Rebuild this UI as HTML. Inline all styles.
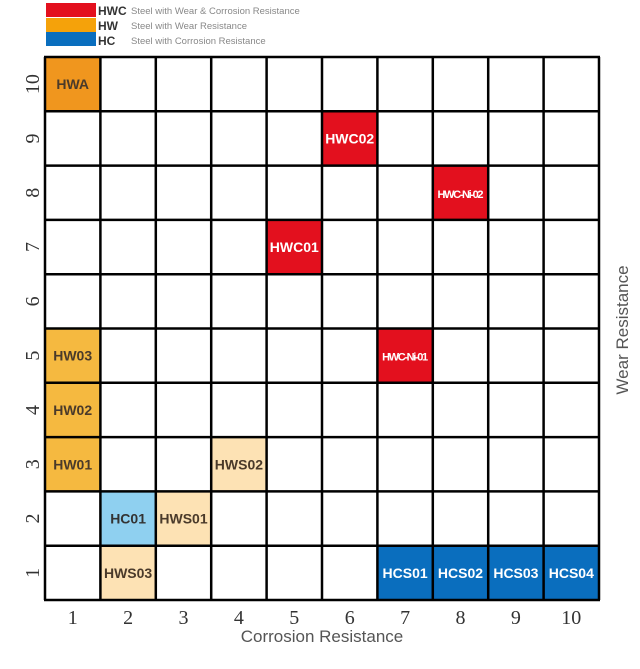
<!DOCTYPE html>
<html><head><meta charset="utf-8"><style>
body{margin:0;background:#fff;width:640px;height:664px;overflow:hidden}
</style></head><body>
<svg id="chart" width="640" height="664" xmlns="http://www.w3.org/2000/svg">
<g>
<rect x="46" y="3" width="50" height="14" fill="#e3101e"/>
<rect x="46" y="18" width="50" height="14" fill="#f5a20a"/>
<rect x="46" y="32" width="50" height="14" fill="#0a6ebe"/>
<g font-family="Liberation Sans, sans-serif" font-weight="bold" font-size="12" fill="#333">
<text x="98" y="15">HWC</text>
<text x="98" y="30">HW</text>
<text x="98" y="45">HC</text></g>
<g font-family="Liberation Sans, sans-serif" font-size="9.5" fill="#888">
<text x="131" y="14">Steel with Wear &amp; Corrosion Resistance</text>
<text x="131" y="29">Steel with Wear Resistance</text>
<text x="131" y="44">Steel with Corrosion Resistance</text></g>
</g>
<g id="cells"></g><g id="grid"></g><g id="labels"></g>
<text x="322" y="642" text-anchor="middle" font-family="Liberation Sans, sans-serif" font-size="17" fill="#555">Corrosion Resistance</text>
<text transform="translate(628,330) rotate(-90)" text-anchor="middle" font-family="Liberation Sans, sans-serif" font-size="17" fill="#555">Wear Resistance</text>
</svg>
<script>
const xTicks=[1,2,3,4,5,6,7,8,9,10];
const yTicks=[1,2,3,4,5,6,7,8,9,10];
const names=["HWA","HWC02","HWC-Ni-02","HWC01","HW03","HWC-Ni-01","HW02","HW01","HWS02","HC01","HWS01","HWS03","HCS01","HCS02","HCS03","HCS04"];
const corrosion=[1,6,8,5,1,7,1,1,4,2,3,2,7,8,9,10];
const wear=[10,9,8,7,5,5,4,3,3,2,2,1,1,1,1,1];
const kinds=["HWA","HWC","HWC","HWC","HW","HWC","HW","HW","HWS","HC","HWS","HWS","HCS","HCS","HCS","HCS"];
const fills={HWA:"#f0961e",HWC:"#e3101e",HW:"#f5b940",HWS:"#fde2b4",HC:"#8fd0f0",HCS:"#0a6ebe"};
const textCol={HWA:"#4a3a2a",HWC:"#fff",HW:"#4a3a2a",HWS:"#4a3a2a",HC:"#333",HCS:"#fff"};
const X0=45,X1=599,Y0=57,Y1=600,cw=(X1-X0)/10,ch=(Y1-Y0)/10;
const xs=v=>X0+(v-1)*cw, ys=v=>Y1-v*ch;
const NS="http://www.w3.org/2000/svg";
const cells=document.getElementById('cells'),grid=document.getElementById('grid'),labels=document.getElementById('labels');
names.forEach((n,i)=>{
 const k=kinds[i];
 const r=document.createElementNS(NS,'rect');
 r.setAttribute('x',xs(corrosion[i]));r.setAttribute('y',ys(wear[i]));
 r.setAttribute('width',cw);r.setAttribute('height',ch);r.setAttribute('fill',fills[k]);
 
 
 cells.appendChild(r);
 const t=document.createElementNS(NS,'text');
 t.setAttribute('x',xs(corrosion[i])+cw/2);t.setAttribute('y',ys(wear[i])+ch/2+5);
 t.setAttribute('text-anchor','middle');t.setAttribute('font-family','Liberation Sans, sans-serif');
 t.setAttribute('font-weight','bold');t.setAttribute('font-size',n.length>6?'11':'14');
 if(n.length>6)t.setAttribute('textLength','46');
 t.setAttribute('fill',textCol[k]);t.textContent=n;
 
 
 labels.appendChild(t);
});
for(let i=0;i<=10;i++){
 const v=document.createElementNS(NS,'line');
 v.setAttribute('x1',X0+i*cw);v.setAttribute('x2',X0+i*cw);v.setAttribute('y1',Y0);v.setAttribute('y2',Y1);
 v.setAttribute('stroke','#000');v.setAttribute('stroke-width','2.5');
 
 
 grid.appendChild(v);
 const h=document.createElementNS(NS,'line');
 h.setAttribute('y1',Y0+i*ch);h.setAttribute('y2',Y0+i*ch);h.setAttribute('x1',X0-1);h.setAttribute('x2',X1+1);
 h.setAttribute('stroke','#000');h.setAttribute('stroke-width','2.5');
 
 
 grid.appendChild(h);
}
xTicks.forEach(v=>{
 const t=document.createElementNS(NS,'text');
 t.setAttribute('x',xs(v)+cw/2);t.setAttribute('y',624);t.setAttribute('text-anchor','middle');
 t.setAttribute('font-family','Liberation Serif, serif');t.setAttribute('font-size','20');t.setAttribute('fill','#333');
 t.textContent=v;
 
 
 labels.appendChild(t);
});
yTicks.forEach(v=>{
 const t=document.createElementNS(NS,'text');
 t.setAttribute('transform','translate(39,'+(ys(v)+ch/2)+') rotate(-90)');t.setAttribute('text-anchor','middle');
 t.setAttribute('font-family','Liberation Serif, serif');t.setAttribute('font-size','20');t.setAttribute('fill','#333');
 t.textContent=v;
 
 
 labels.appendChild(t);
});
</script>
</body></html>
